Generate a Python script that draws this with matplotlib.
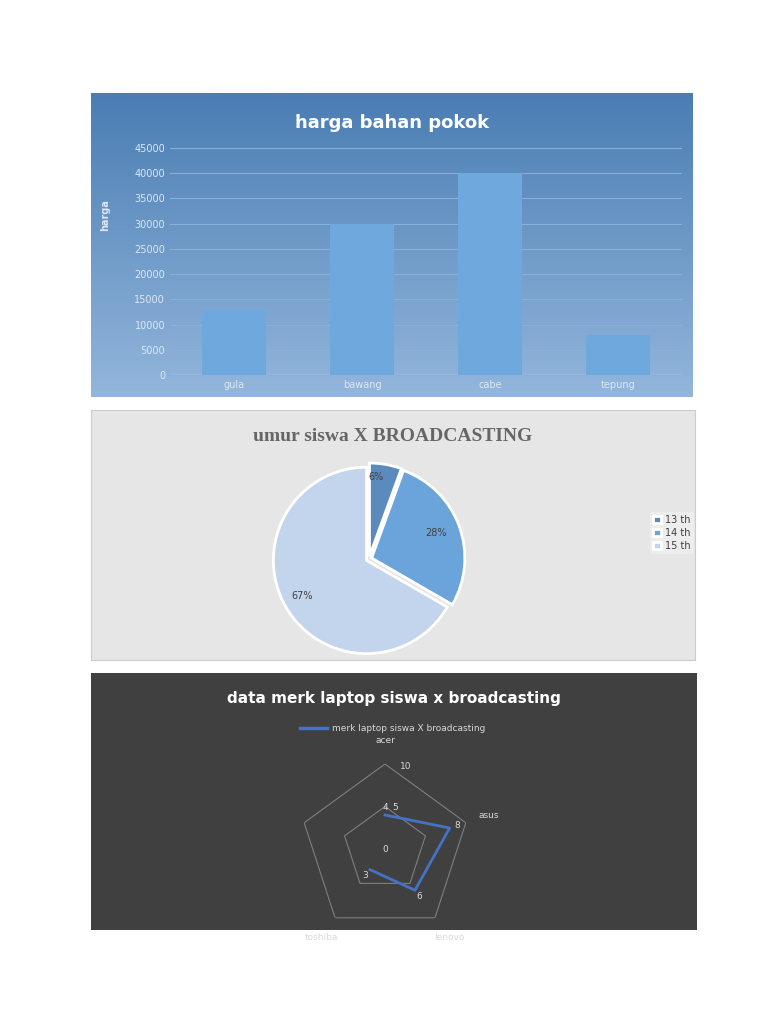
import numpy as np
import matplotlib.pyplot as plt
from matplotlib.colors import LinearSegmentedColormap

# bar chart data
bahan = ['gula', 'bawang', 'cabe', 'tepung']
harga = [13000, 30000, 40000, 8000]

# pie data
umur = ['13 th', '14 th', '15 th']
jumlah = [1, 5, 12]
pie_labels = ['6%', '28%', '67%']

# radar data (5th axis is empty)
merk = ['acer', 'asus', 'lenovo', 'toshiba', '']
laptop = [4, 8, 6, 3, np.nan]

W, H = 768, 1024
fig = plt.figure(figsize=(7.68, 10.24), dpi=100)
fig.patch.set_facecolor('white')

def box(x0, y0, x1, y1):
    return [x0 / W, 1 - y1 / H, (x1 - x0) / W, (y1 - y0) / H]

# ---- panel 1: bars ----
bg1 = fig.add_axes(box(91, 93, 693, 397))
grad = np.linspace(0, 1, 256).reshape(-1, 1)
cm1 = LinearSegmentedColormap.from_list('b', ['#4a7db3', '#93b6dc'])
bg1.imshow(grad, aspect='auto', cmap=cm1, extent=[0, 1, 0, 1])
bg1.axis('off')
bg1.text(0.5, 0.9, 'harga bahan pokok', color='white', fontsize=13, fontweight='bold',
         ha='center', va='center', transform=bg1.transAxes)
bg1.text(14 / 602, 0.6, 'harga', color='#dde8f4', fontsize=7, fontweight='bold',
         rotation=90, ha='center', va='center', transform=bg1.transAxes)

ax1 = fig.add_axes(box(170, 148, 682, 375))
ax1.patch.set_alpha(0)
x = np.arange(len(bahan))
ax1.bar(x, harga, width=0.5, color='#6fa8dc', zorder=3)
ax1.set_ylim(0, 45000)
ax1.set_yticks(range(0, 45001, 5000))
ax1.set_xlim(-0.5, 3.5)
ax1.set_xticks(x)
ax1.set_xticklabels(bahan)
ax1.tick_params(colors='#dde8f4', labelsize=7, length=0)
ax1.grid(axis='y', color='#8bb0d8', lw=0.8, zorder=0)
for s in ax1.spines.values():
    s.set_visible(False)
ax1.axhline(0, color='#c8d9ec', lw=1)

# ---- panel 2: pie ----
bg2 = fig.add_axes(box(91, 410, 695, 660))
bg2.set_facecolor('#e6e6e6')
bg2.set_xticks([]); bg2.set_yticks([])
for s in bg2.spines.values():
    s.set_color('#cccccc')
bg2.text(0.5, 0.895, 'umur siswa X BROADCASTING', color='#666666', fontsize=14,
         fontweight='bold', family='Liberation Serif', ha='center', va='center',
         transform=bg2.transAxes)

ax2 = fig.add_axes(box(272, 463, 466, 655))
wedges, _ = ax2.pie(jumlah, colors=['#5b8bbd', '#6aa4da', '#c3d5ec'], startangle=90,
                    counterclock=False, explode=[0.03, 0.03, 0.03],
                    wedgeprops=dict(edgecolor='white', linewidth=2))
ax2.set_xlim(-1.03, 1.03)
ax2.set_ylim(-1.03, 1.03)
pos = [(0.07, 0.88), (0.72, 0.28), (-0.72, -0.4)]
for (px, py), t in zip(pos, pie_labels):
    ax2.text(px, py, t, fontsize=7, color='#404040', ha='center', va='center')
ax2.legend(wedges, umur, loc='center left', bbox_to_anchor=(645 / W, 1 - 533 / H),
           bbox_transform=fig.transFigure,
           fontsize=7, frameon=True, facecolor='#f0f0f0', edgecolor='none',
           handlelength=0.8, handleheight=0.8, labelcolor='#404040',
           borderpad=0.3, labelspacing=0.3, handletextpad=0.5)

# ---- panel 3: radar ----
bg3 = fig.add_axes(box(91, 673, 697, 930))
bg3.set_facecolor('#404040')
bg3.set_xticks([]); bg3.set_yticks([])
for s in bg3.spines.values():
    s.set_visible(False)
bg3.text(0.5, 0.9, 'data merk laptop siswa x broadcasting', color='white', fontsize=11,
         fontweight='bold', ha='center', va='center', transform=bg3.transAxes)
bg3.plot([0.345, 0.39], [0.785, 0.785], color='#4472c4', lw=2.5, transform=bg3.transAxes)
bg3.text(0.397, 0.785, 'merk laptop siswa X broadcasting', color='#d9d9d9', fontsize=6.5,
         va='center', transform=bg3.transAxes)

ax3 = fig.add_axes(box(300, 764, 470, 934), polar=True)
ax3.set_facecolor('none')
ang = np.pi / 2 - np.arange(5) * 2 * np.pi / 5
ax3.set_ylim(0, 10)
ax3.axis('off')
for r in [5, 10]:
    ax3.plot(np.append(ang, ang[0]), [r] * 6, color='#7f7f7f', lw=0.8)
ax3.plot(ang, laptop, color='#4472c4', lw=2)
for a, v in zip(ang, laptop):
    if not np.isnan(v):
        ax3.text(a, v + 0.9, str(int(v)), color='#d9d9d9', fontsize=6.5, ha='center', va='center')
for r in [0, 5, 10]:
    ax3.text(np.pi / 2 - 0.25 if r else 0, r, str(r), color='#d9d9d9',
             fontsize=6.5, ha='center', va='center')
for a, m in zip(ang, merk):
    ax3.text(a, 12.8, m, color='#d9d9d9', fontsize=6.5, ha='center', va='center')

fig.savefig('out.png', dpi=100)
